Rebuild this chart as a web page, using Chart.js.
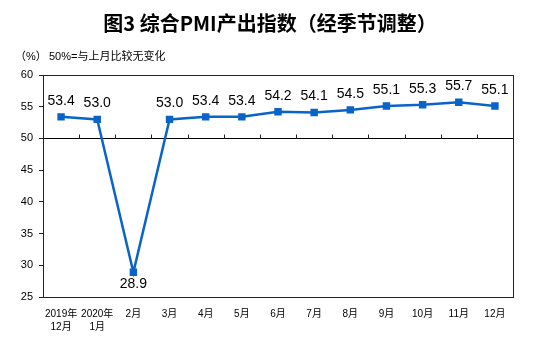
<!DOCTYPE html>
<html>
<head>
<meta charset="utf-8">
<script src="https://cdn.jsdelivr.net/npm/chart.js@4/dist/chart.umd.min.js"></script>
<style>
    html, body { margin: 0; padding: 0; background: #fff; }
    canvas { display: block; }
</style>
</head>
<body>
<canvas id="pmi" width="554" height="345"></canvas>
<script>
// Datos
var categorias = [
    ['2019年', '12月'], ['2020年', '1月'], '2月', '3月', '4月', '5月', '6月',
    '7月', '8月', '9月', '10月', '11月', '12月'
];
var valores = [53.4, 53.0, 28.9, 53.0, 53.4, 53.4, 54.2, 54.1, 54.5, 55.1, 55.3, 55.7, 55.1];
var ticksY = [25, 30, 35, 40, 45, 50, 55, 60];

var titulo = '图3 综合PMI产出指数（经季节调整）';
var unidad = '（%）';
var nota = '50%=与上月比较无变化';

var azul = '#0a64c8';
var fuenteLatina = '"Liberation Sans", Arial, "Noto Sans CJK SC", sans-serif';

// Plugin: marco del área, línea de 50, marcas y etiquetas de datos
var extras = {
    id: 'extras',
    afterDraw: function (chart) {
        var ctx = chart.ctx;
        var area = chart.chartArea;
        var x = chart.scales.x;
        var y = chart.scales.y;

        ctx.save();

        // Título y notas
        ctx.fillStyle = '#000';
        ctx.textAlign = 'center';
        ctx.textBaseline = 'middle';
        ctx.font = 'bold 20px "Noto Sans CJK SC", sans-serif';
        ctx.fillText(titulo, 270, 23);

        ctx.textAlign = 'left';
        ctx.font = '11px ' + fuenteLatina;
        ctx.fillText(unidad, 15, 57);
        ctx.fillText(nota, 49, 57);

        // Marco del área de trazado
        ctx.strokeStyle = '#222';
        ctx.lineWidth = 1;
        ctx.strokeRect(Math.round(area.left) + 0.5, Math.round(area.top) + 0.5,
            Math.round(area.right - area.left), Math.round(area.bottom - area.top));

        // Marcas sobre la línea de 50
        var y50 = Math.round(y.getPixelForValue(50)) + 0.5;
        ctx.beginPath();
        for (var i = 1; i < categorias.length; i++) {
            var px = Math.round((x.getPixelForTick(i - 1) + x.getPixelForTick(i)) / 2) + 0.5;
            ctx.moveTo(px, y50);
            ctx.lineTo(px, y50 - 4);
        }
        ctx.stroke();

        // Etiquetas de valores
        var meta = chart.getDatasetMeta(0);
        ctx.font = '14px ' + fuenteLatina;
        ctx.textAlign = 'center';
        ctx.textBaseline = 'alphabetic';
        meta.data.forEach(function (punto, idx) {
            var v = valores[idx];
            var texto = v.toFixed(1);
            if (v < 50) {
                ctx.fillText(texto, punto.x, punto.y + 16);
            } else {
                ctx.fillText(texto, punto.x, punto.y - 12);
            }
        });

        ctx.restore();
    }
};

new Chart(document.getElementById('pmi').getContext('2d'), {
    type: 'line',
    data: {
        labels: categorias,
        datasets: [{
            data: valores,
            borderColor: azul,
            backgroundColor: azul,
            borderWidth: 2.5,
            pointStyle: 'rect',
            pointRadius: 3.5,
            pointBackgroundColor: azul,
            pointBorderColor: azul,
            tension: 0
        }]
    },
    options: {
        responsive: false,
        animation: false,
        layout: {
            padding: { top: 75, right: 41, left: 0, bottom: 0 }
        },
        plugins: {
            legend: { display: false },
            tooltip: { enabled: false },
            title: { display: false }
        },
        scales: {
            x: {
                type: 'category',
                offset: true,
                grid: { display: false, drawTicks: false },
                border: { display: true, color: '#222', width: 1 },
                ticks: {
                    autoSkip: false,
                    maxRotation: 0,
                    padding: 11,
                    color: '#000',
                    font: { family: fuenteLatina, size: 10, lineHeight: 1.3 }
                },
                afterFit: function (scale) {
                    scale.height = 48;
                }
            },
            y: {
                min: 25,
                max: 60,
                afterBuildTicks: function (scale) {
                    scale.ticks = ticksY.map(function (v) { return { value: v }; });
                },
                grid: {
                    color: function (c) {
                        return c.tick && c.tick.value === 50 ? '#000' : 'rgba(0,0,0,0)';
                    },
                    lineWidth: 1,
                    drawTicks: true,
                    tickLength: 4,
                    tickColor: '#222'
                },
                border: { display: true, color: '#222', width: 1 },
                ticks: {
                    padding: 6,
                    color: '#000',
                    font: { family: fuenteLatina, size: 11 }
                },
                afterFit: function (scale) {
                    scale.width = 43;
                }
            }
        }
    },
    plugins: [extras]
});
</script>
</body>
</html>
